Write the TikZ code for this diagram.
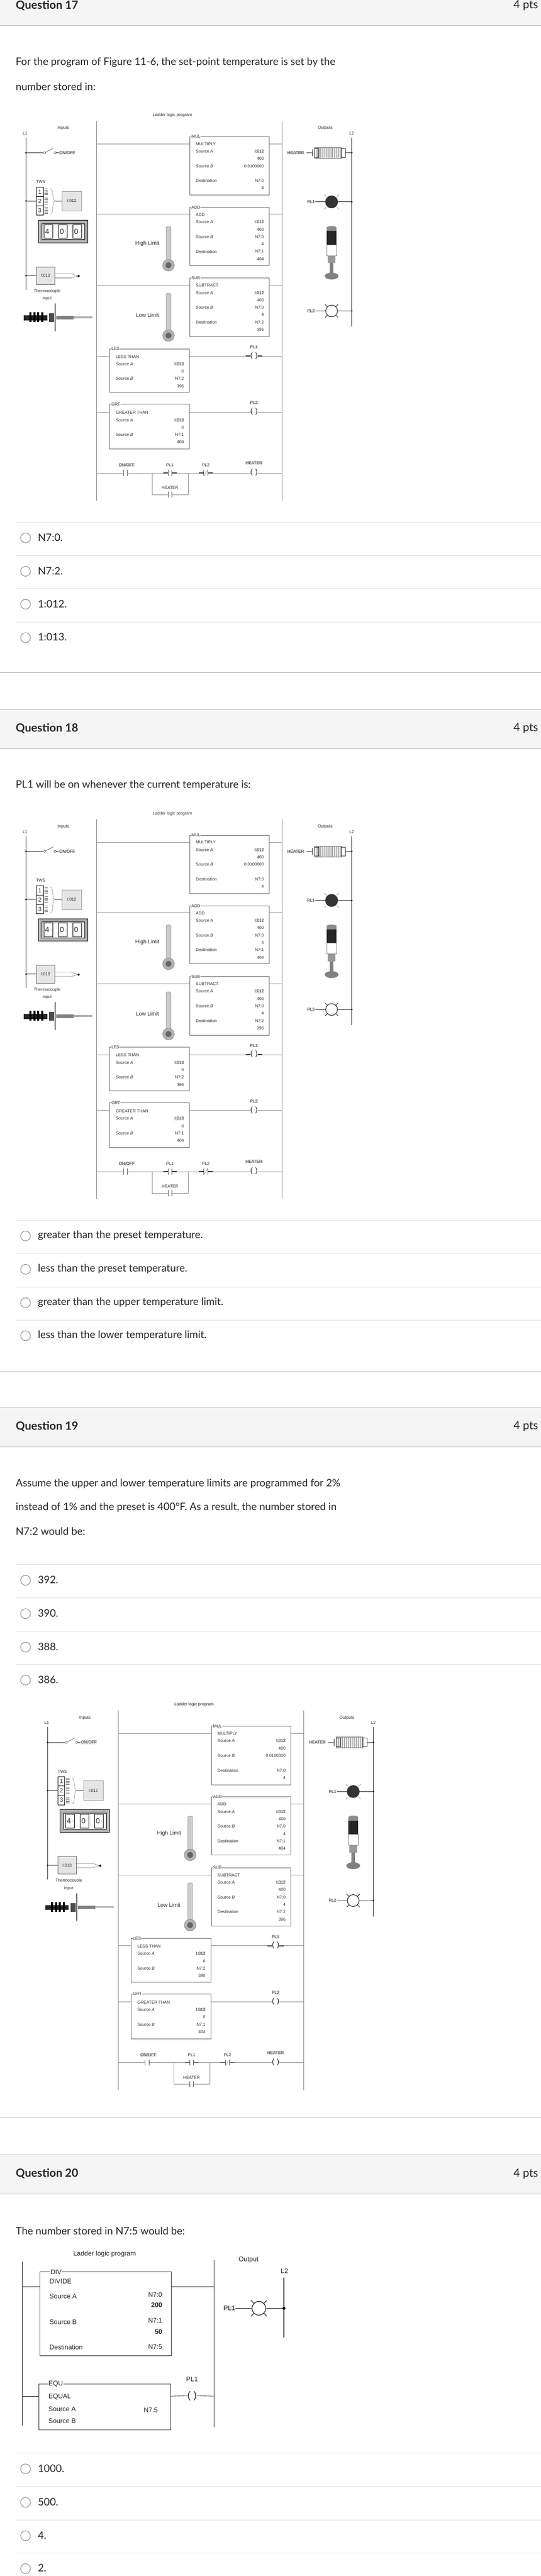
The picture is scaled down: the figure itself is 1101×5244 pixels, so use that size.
\documentclass[tikz,border=0pt]{standalone}
\usepackage{fontspec}
\setmainfont{Lato}
\newfontfamily\dsf{Liberation Sans}
\newcommand\dsize{\fontsize{8.5}{9.5}}
\tikzset{
 qtext/.style={anchor=west,inner sep=0pt,text=black!85,font=\fontsize{21}{25}\selectfont},
 hdrtext/.style={anchor=west,inner sep=0pt,text=black!85,font=\bfseries\fontsize{23}{27}\selectfont},
 lbl/.style={inner sep=0.6pt,text=black!85,font=\dsf\dsize\selectfont},
 lblw/.style={lbl,anchor=west},
 lble/.style={lbl,anchor=east},
 glbl/.style={lbl,fill=black!9},
 wire/.style={draw=black!85,line width=0.9pt},
 rail/.style={draw=black!50,line width=0.8pt},
 rung/.style={draw=black!45,line width=0.8pt},
 instr/.style={draw=black!60,line width=0.8pt,fill=white,inner sep=0pt},
 sepline/.style={draw=black!12,line width=0.8pt},
 secline/.style={draw=black!30,line width=1pt},
 radio/.style={draw=black!55,line width=0.9pt},
 coil/.style={lbl,font=\dsf\fontsize{15}{15}\selectfont,fill=white,inner sep=0pt}
}
\newcommand\hdr[3]{% y-top, name, text
 \fill[black!4] (0,#1) rectangle (1101,#1+79);
 \draw[secline] (0,#1)--(1101,#1); \draw[secline] (0,#1+79)--(1101,#1+79);
 \node[hdrtext] (#2) at (32,#1+38) {#3};
 \node[hdrtext,font=\fontsize{23}{27}\selectfont] (#2p) at (1045,#1+38) {4 pts};}
\newcommand\opt[3]{% y, name, text
 \draw[sepline] (32,#1-31)--(1101,#1-31);
 \draw[radio] (52,#1+1) circle (10);
 \node[qtext] (#2) at (77,#1) {#3};}
\newcommand\nocont[2]{\fill[white] (#1-4,#2-7) rectangle (#1+4,#2+7);
 \draw[black!70,line width=0.8pt] (#1-4,#2-6)--(#1-4,#2+6) (#1+4,#2-6)--(#1+4,#2+6);}
\newcommand\ladder[1]{%
 \node[lbl] (#1title) at (351,234) {Ladder logic program};
 \draw[rail] (197,246)--(197,1019); \draw[rail] (574,246)--(574,1019);
 \node[lbl] (#1in) at (129,261) {Inputs};
 \node[lbl] (#1out) at (662,261) {Outputs};
 \node[lbl] (#1l1) at (51,271) {L1}; \node[lbl] (#1l2) at (716,271) {L2};
 \draw[wire] (53,280)--(53,590); \draw[wire] (716,280)--(716,665);
 \fill (53,311) circle (1.8); \draw[wire] (53,311)--(88,311);
 \draw (91,311) circle (2.2); \draw (93,310)--(108,302); \draw (112,311) circle (2.2); \draw (114,311)--(120,311);
 \node[glbl,anchor=west] (#1onoff) at (120,311) {ON/OFF};
 \node[lbl] (#1tws) at (83,370) {TWS};
 \fill (53,409) circle (1.8); \draw[wire] (53,409)--(74,409);
 \foreach \d/\yy in {1/381,2/400,3/419}{
   \draw[line width=0.8pt] (74,\yy) rectangle (88,\yy+19);
   \node[lbl,font=\dsf\fontsize{12}{12}\selectfont] at (81,\yy+9.5) {\d};
   \foreach \k in {0,3,6,9,12}{\draw[black!60] (90,\yy+3+\k)--(98,\yy+3+\k);}}
 \draw[black!70] (103,384) .. controls (109,384) and (106,409) .. (112,409) .. controls (106,409) and (109,436) .. (103,436);
 \draw[black!70] (112,409)--(127,409);
 \node[draw=black!40,fill=black!10,minimum width=39,minimum height=40,lbl] (#1i12) at (146,409) {I:012};
 \draw[fill=black!30,line width=0.8pt] (78,448) rectangle (179,494);
 \draw[fill=white] (85,455) rectangle (172,487);
 \foreach \d/\xx in {4/98,0/128,0/157}{\draw (\xx-9,457) rectangle (\xx+9,485);
   \node[lbl,font=\dsf\fontsize{15}{15}\selectfont] at (\xx-2,471) {\d};
   \node[lbl,font=\dsf\fontsize{6}{6}\selectfont] at (\xx+6,471) {:};}
 \fill (53,561) circle (1.8); \draw[wire] (53,561)--(74,561);
 \node[draw=black!60,fill=black!10,minimum width=37,minimum height=36,lbl] (#1i13) at (92.5,561) {I:013};
 \draw[black!80] (111,557)--(145,557)--(158,562) (111,566)--(145,566)--(158,562);
 \fill (160,562) circle (2.2);
 \node[lbl] (#1tc) at (96,593) {Thermocouple};
 \node[lbl] (#1tci) at (96,608) {input};
 \fill[black!85] (48,642) rectangle (96,652);
 \foreach \k in {60,68,76,84}{\fill[black] (\k,636) rectangle (\k+4,656);}
 \fill[black!70] (100,638) rectangle (110,656);
 \draw[black!70,line width=2pt] (112,618)--(112,674);
 \fill[black!50] (114,643) rectangle (150,650);
 \fill[black!30] (150,644) rectangle (188,648);
 % MUL
 \draw[rung] (197,293)--(386,293); \draw[rung] (548,293)--(574,293);
 \node[instr,minimum width=162,minimum height=119] (#1mul) at (467,337.5) {};
 \node[lblw,fill=white] at (389,278) {MUL};
 \node[lblw] at (398,293) {MULTIPLY};
 \node[lblw] at (398,308) {Source \textit{A}}; \node[lble,fill=black!9] at (538,308) {I:012};
 \node[lble] at (538,323) {400};
 \node[lblw] at (398,338) {Source \textit{B}}; \node[lble] at (538,338) {0.0100000};
 \node[lblw] at (398,368) {Destination}; \node[lble] at (538,368) {N7:0};
 \node[lble] at (538,383) {4};
 % ADD
 \draw[rung] (197,436)--(386,436); \draw[rung] (548,436)--(574,436);
 \node[instr,minimum width=162,minimum height=118] (#1add) at (467,481) {};
 \node[lblw,fill=white] at (389,422) {ADD};
 \node[lblw] at (398,437) {ADD};
 \node[lblw] at (398,452) {Source \textit{A}}; \node[lble,fill=black!9] at (538,452) {I:012};
 \node[lble] at (538,467) {400};
 \node[lblw] at (398,482) {Source \textit{B}}; \node[lble] at (538,482) {N7:0};
 \node[lble] at (538,497) {4};
 \node[lblw] at (398,512) {Destination}; \node[lble] at (538,512) {N7:1};
 \node[lble] at (538,527) {404};
 \node[lbl,font=\dsf\fontsize{11}{11}\selectfont] (#1hl) at (300,496) {High Limit};
 \draw[fill=black!20,rounded corners=3,draw=black!60] (338,461) rectangle (348,532);
 \draw[fill=black!30,draw=black!60] (343,540) circle (12); \fill[black!60] (343,540) circle (6);
 % SUB
 \draw[rung] (197,581)--(386,581); \draw[rung] (548,581)--(574,581);
 \node[instr,minimum width=162,minimum height=119] (#1sub) at (467,625.5) {};
 \node[lblw,fill=white] at (389,566) {SUB};
 \node[lblw] at (398,581) {SUBTRACT};
 \node[lblw] at (398,596) {Source \textit{A}}; \node[lble,fill=black!9] at (538,596) {I:012};
 \node[lble] at (538,611) {400};
 \node[lblw] at (398,626) {Source \textit{B}}; \node[lble] at (538,626) {N7:0};
 \node[lble] at (538,641) {4};
 \node[lblw] at (398,656) {Destination}; \node[lble] at (538,656) {N7:2};
 \node[lble] at (538,671) {396};
 \node[lbl,font=\dsf\fontsize{11}{11}\selectfont] (#1ll) at (300,642) {Low Limit};
 \draw[fill=black!20,rounded corners=3,draw=black!60] (338,597) rectangle (348,676);
 \draw[fill=black!30,draw=black!60] (343,683) circle (12); \fill[black!60] (343,683) circle (6);
 % LES
 \draw[rung] (197,725)--(223,725); \draw[rung] (385,725)--(574,725);
 \node[instr,minimum width=162,minimum height=89] (#1les) at (304,754.5) {};
 \node[lblw,fill=white] at (226,710) {LES};
 \node[lblw] at (235,726) {LESS THAN};
 \node[lblw] at (235,741) {Source \textit{A}}; \node[lble,fill=black!9] at (375,741) {I:013};
 \node[lble] at (375,756) {0};
 \node[lblw] at (235,771) {Source \textit{B}}; \node[lble] at (375,771) {N7:2};
 \node[lble] at (375,786) {396};
 \draw[black!80,line width=2pt] (500,725)--(534,725);
 \node[coil] (#1pl1c) at (517,724) {(\hspace{5pt})};
 \node[glbl] (#1pl1l) at (517,707) {PL1};
 % GRT
 \draw[rung] (197,839)--(223,839); \draw[rung] (385,839)--(574,839);
 \node[instr,minimum width=162,minimum height=91] (#1grt) at (304,868.5) {};
 \node[lblw,fill=white] at (226,823) {GRT};
 \node[lblw] at (235,840) {GREATER THAN};
 \node[lblw] at (235,855) {Source \textit{A}}; \node[lble,fill=black!9] at (375,855) {I:013};
 \node[lble] at (375,870) {0};
 \node[lblw] at (235,885) {Source \textit{B}}; \node[lble] at (375,885) {N7:1};
 \node[lble] at (375,900) {404};
 \node[coil] (#1pl2c) at (517,838) {(\hspace{5pt})};
 \node[glbl] (#1pl2l) at (517,820) {PL2};
 % bottom rung
 \draw[rung] (197,963)--(574,963);
 \draw[rung] (310,963)--(310,1007)--(383,1007)--(383,963);
 \nocont{255}{963} \nocont{346}{963} \nocont{419}{963} \nocont{346}{1007}
 \draw[black!80,line width=1.6pt] (332,963)--(342,963) (350,963)--(360,963) (405,963)--(415,963) (423,963)--(433,963);
 \draw[black!70] (415,969)--(423,957);
 \node[coil] (#1htc) at (517,962) {(\hspace{5pt})};
 \node[glbl] (#1onl) at (258,947) {ON/OFF};
 \node[lbl] (#1pl1b) at (346,947) {PL1};
 \node[lbl] (#1pl2b) at (419,947) {PL2};
 \node[glbl] (#1htl) at (517,943) {HEATER};
 \node[lbl] (#1htb) at (346,993) {HEATER};
 % outputs
 \node[glbl] (#1hto) at (602,311) {HEATER};
 \draw[black!80] (624,311)--(636,311) (636,304)--(636,318);
 \draw[black!60,fill=black!10] (640,300) rectangle (695,322);
 \foreach \k in {0,4,...,48}{\draw[black!45] (645+\k,300)--(645+\k,322);}
 \draw[black!80] (640,302) rectangle (648,320) (695,302) rectangle (703,320);
 \draw[wire] (703,311)--(716,311); \fill (716,311) circle (1.8);
 \node[glbl] (#1pl1o) at (633,411) {PL1};
 \draw[wire] (642,411)--(716,411); \fill (716,411) circle (1.8);
 \fill[black!80] (675,411) circle (13);
 \foreach \a in {45,135,225,315}{\draw[black!70] (675,411)++(\a:15)--++(\a:6);}
 \node[glbl] (#1pl2o) at (633,633) {PL2};
 \draw[wire] (642,633)--(663,633) (687,633)--(716,633); \fill (716,633) circle (1.8);
 \draw[black!85,line width=1.2pt,fill=white] (675,633) circle (12);
 \foreach \a in {45,135,225,315}{\draw[black!85,line width=1pt] (675,633)++(\a:12)--++(\a:7);}
 \fill[black!45] (665,462) rectangle (685,470); \fill[black!45] (675,464) ellipse (10 and 4);
 \fill[black!85] (665,470) rectangle (685,498);
 \draw[black!50,fill=white] (665,498) rectangle (685,520);
 \fill[black!40] (667,520) rectangle (683,535);
 \fill[black!50] (671,535) rectangle (679,560);
 \fill[black!50] (675,562) ellipse (14 and 7);
}
\begin{document}
\begin{tikzpicture}[x=1pt,y=-1pt]
\useasboundingbox (0,0) rectangle (1101,5244);
\fill[white] (0,0) rectangle (1101,5244);
% Q17
\fill[black!4] (0,0) rectangle (1101,52); \draw[secline] (0,52)--(1101,52);
\node[hdrtext] (q17) at (32,11) {Question 17};
\node[hdrtext,font=\fontsize{23}{27}\selectfont] (q17p) at (1045,11) {4 pts};
\node[qtext] (q17a) at (32,127) {For the program of Figure 11-6, the set-point temperature is set by the};
\node[qtext] (q17b) at (32,176) {number stored in:};
\begin{scope}\ladder{a}\end{scope}
\opt{1094}{o17a}{N7:0.}
\opt{1162}{o17b}{N7:2.}
\opt{1229}{o17c}{1:012.}
\opt{1297}{o17d}{1:013.}
\draw[secline] (0,1369)--(1101,1369);
% Q18
\hdr{1445}{q18}{Question 18}
\node[qtext] (q18a) at (32,1598) {PL1 will be on whenever the current temperature is:};
\begin{scope}[shift={(0,1422)}]\ladder{b}\end{scope}
\opt{2515}{o18a}{greater than the preset temperature.}
\opt{2583}{o18b}{less than the preset temperature.}
\opt{2651}{o18c}{greater than the upper temperature limit.}
\opt{2718}{o18d}{less than the lower temperature limit.}
\draw[secline] (0,2792)--(1101,2792);
% Q19
\hdr{2866}{q19}{Question 19}
\node[qtext] (q19a) at (32,3020) {Assume the upper and lower temperature limits are programmed for 2\%};
\node[qtext] (q19b) at (32,3069) {instead of 1\% and the preset is 400°F. As a result, the number stored in};
\node[qtext] (q19c) at (32,3117) {N7:2 would be:};
\opt{3216}{o19a}{392.}
\opt{3284}{o19b}{390.}
\opt{3352}{o19c}{388.}
\opt{3419}{o19d}{386.}
\begin{scope}[shift={(44,3236)}]\ladder{c}\end{scope}
\draw[secline] (0,4311)--(1101,4311);
% Q20
\hdr{4387}{q20}{Question 20}
\node[qtext] (q20a) at (32,4541) {The number stored in N7:5 would be:};
\begin{scope}
\renewcommand\dsize{\fontsize{13.5}{15}}
\node[lbl] (dtitle) at (213,4589) {Ladder logic program};
\draw[wire] (46,4604)--(46,4938); \draw[wire] (436,4601)--(436,4941);
\node[instr,draw=black!85,minimum width=268,minimum height=170] (div) at (215,4710) {};
\draw[wire] (46,4655)--(div.west|-0,4655); \draw[wire] (div.east|-0,4655)--(436,4655);
\node[lblw,fill=white] at (102,4625) {DIV};
\node[lblw] at (100,4644) {DIVIDE};
\node[lblw] at (100,4674) {Source A}; \node[lble] at (331,4671) {N7:0};
\node[lble,font=\dsf\bfseries\fontsize{13.5}{15}\selectfont] at (331,4692) {200};
\node[lblw] at (100,4727) {Source B}; \node[lble] at (331,4724) {N7:1};
\node[lble,font=\dsf\bfseries\fontsize{13.5}{15}\selectfont] at (331,4747) {50};
\node[lblw] at (100,4778) {Destination}; \node[lble] at (331,4777) {N7:5};
\node[instr,draw=black!85,minimum width=269,minimum height=94] (equ) at (213.5,4900) {};
\draw[wire] (46,4878)--(equ.west|-0,4878);
\node[lblw,fill=white] at (98,4853) {EQU};
\node[lblw] at (98,4879) {EQUAL};
\node[lblw] at (98,4904) {Source A}; \node[lble] at (322,4906) {N7:5};
\node[lblw] at (98,4928) {Source B};
\node[coil,font=\dsf\fontsize{20}{20}\selectfont] (pl1c) at (391,4877) {(\hspace{6pt})};
\draw[wire] (equ.east|-0,4878)--(pl1c.west); \draw[wire] (pl1c.east)--(436,4878);
\node[lbl] (pl1cl) at (391,4843) {PL1};
\node[lbl] (outl) at (506,4600) {Output};
\node[lbl] (l2l) at (579,4623) {L2};
\draw[wire,line width=1.3pt] (578,4637)--(578,4758);
\node[glbl] (pl1o) at (467,4699) {PL1};
\draw[wire] (pl1o.east)--(512,4699) (542,4699)--(578,4699); \fill (578,4699) circle (3);
\draw[black!85,line width=1.4pt] (527,4699) circle (14);
\foreach \a in {45,135,225,315}{\draw[black!85,line width=1.3pt] (527,4699)++(\a:14)--++(\a:9);}
\end{scope}
\opt{5025}{o20a}{1000.}
\opt{5093}{o20b}{500.}
\opt{5161}{o20c}{4.}
\opt{5228}{o20d}{2.}
\end{tikzpicture}
\end{document}
